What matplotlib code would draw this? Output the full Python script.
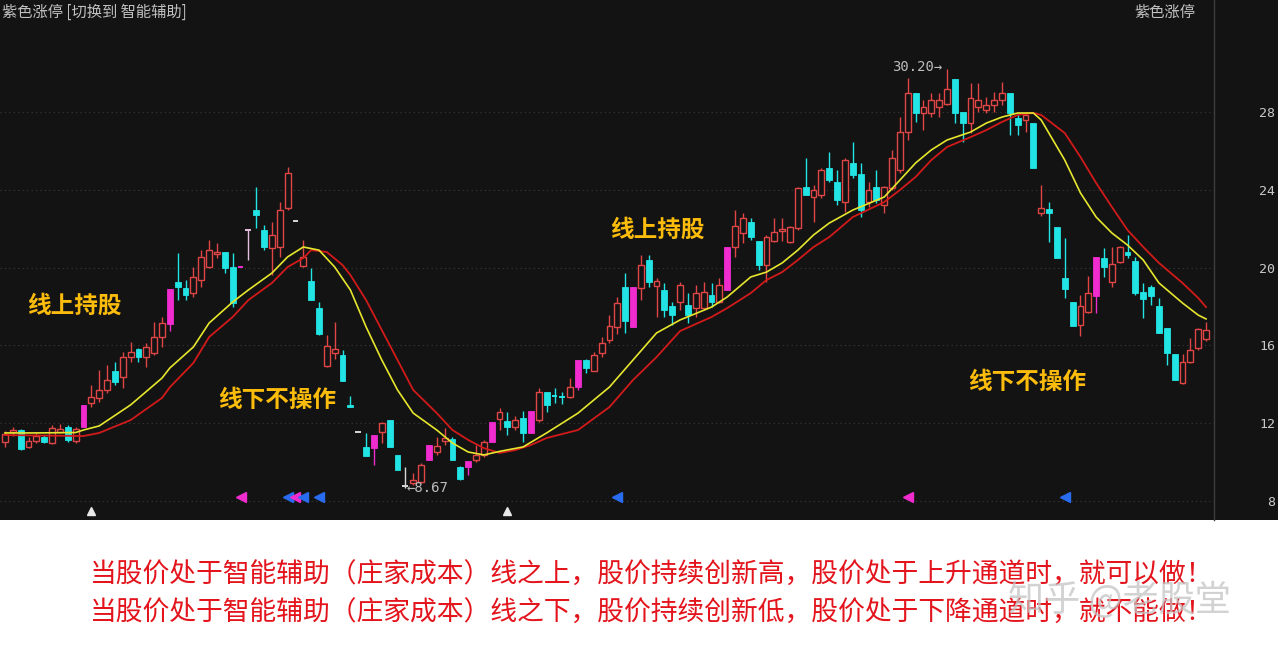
import matplotlib
matplotlib.use("Agg")
import matplotlib.pyplot as plt
from matplotlib.patches import Rectangle

plt.rcParams['font.family'] = ['Noto Sans CJK SC', 'DejaVu Sans']

# ---------------------------------------------------------------
# candle data, index 0..153
# ---------------------------------------------------------------
opens = [
    11.05, 11.55, 11.65, 10.79, 11.07, 11.27, 11.00, 11.56, 11.79, 11.10,
    11.82, 13.02, 13.28, 13.71, 14.70, 14.39, 15.42, 15.80, 15.42, 15.59,
    16.45, 17.10, 19.26, 18.95, 18.69, 19.36, 20.03, 20.70, 20.80, 20.03,
    20.01, 21.93, 22.96, 21.93, 20.99, 21.07, 23.05, 22.40, 20.08, 19.31,
    17.92, 14.94, 15.61, 15.51, 12.94, 11.55, 10.79, 10.72, 11.55, 12.16,
    10.36, 8.77, 8.91, 8.98, 10.11, 10.53, 11.08, 11.19, 9.75, 9.75,
    10.11, 10.36, 11.05, 12.22, 12.11, 11.80, 12.27, 11.50, 12.16, 13.60,
    13.42, 13.37, 13.36, 13.88, 15.25, 14.70, 15.59, 16.28, 16.96, 19.00,
    16.96, 18.95, 20.39, 19.05, 18.85, 18.02, 18.25, 18.08, 17.92, 17.92,
    18.59, 18.25, 18.85, 21.07, 21.78, 22.36, 21.38, 20.13, 21.38, 21.88,
    21.33, 22.02, 24.14, 23.64, 23.73, 25.12, 24.42, 23.39, 25.38, 24.81,
    23.39, 24.16, 23.22, 24.09, 25.02, 26.99, 28.98, 27.95, 27.95, 28.27,
    28.41, 29.70, 28.01, 27.43, 28.27, 28.10, 28.36, 28.62, 28.98, 27.69,
    27.59, 27.43, 22.81, 23.01, 22.09, 19.46, 18.25, 17.05, 17.73, 18.54,
    20.49, 19.27, 20.30, 20.82, 20.35, 18.76, 19.02, 18.02, 16.89, 15.56,
    14.05, 15.16, 15.87, 16.33,
]
highs = [
    11.61, 11.80, 11.69, 11.31, 11.48, 11.39, 11.91, 11.96, 11.91, 11.82,
    12.94, 13.96, 14.73, 14.99, 15.16, 15.68, 16.19, 15.87, 16.12, 17.22,
    17.47, 18.88, 20.75, 19.36, 20.03, 20.90, 21.42, 21.26, 20.80, 20.75,
    20.01, 21.93, 24.14, 22.19, 22.36, 23.39, 25.19, 22.40, 21.42, 19.98,
    18.23, 16.53, 17.20, 15.76, 13.40, 11.55, 11.51, 11.39, 12.08, 12.16,
    10.36, 9.75, 9.44, 9.95, 10.88, 11.31, 11.75, 11.29, 9.80, 10.07,
    10.88, 11.14, 12.08, 12.78, 12.58, 12.37, 12.63, 12.64, 13.81, 13.60,
    13.81, 13.60, 14.32, 15.25, 15.30, 15.68, 16.45, 17.56, 18.50, 19.74,
    19.00, 20.65, 20.65, 19.46, 19.21, 18.25, 19.27, 18.69, 19.10, 19.27,
    19.22, 19.46, 21.07, 22.96, 22.82, 22.55, 21.38, 21.68, 22.55, 22.55,
    22.14, 24.16, 25.63, 24.25, 25.12, 25.96, 25.02, 25.63, 26.47, 25.38,
    24.42, 25.02, 24.19, 26.05, 27.76, 29.75, 28.98, 28.62, 28.98, 28.98,
    30.20, 29.70, 28.01, 29.49, 29.49, 28.79, 29.04, 29.56, 28.98, 27.95,
    28.01, 27.43, 24.25, 23.39, 22.09, 21.52, 18.25, 18.59, 19.57, 20.56,
    21.01, 21.07, 21.11, 21.68, 20.56, 19.21, 19.10, 18.44, 16.89, 15.56,
    15.56, 16.38, 16.89, 17.22,
]
lows = [
    10.79, 11.34, 10.62, 10.72, 11.00, 10.97, 10.93, 11.48, 11.05, 11.00,
    11.82, 12.85, 13.10, 13.55, 13.96, 13.81, 15.16, 15.16, 14.90, 15.51,
    15.93, 16.76, 18.33, 18.33, 18.49, 19.00, 19.98, 20.49, 19.72, 17.98,
    20.01, 20.39, 22.04, 20.90, 19.62, 20.56, 22.96, 22.40, 20.04, 18.33,
    16.53, 14.89, 15.30, 14.17, 12.83, 11.55, 10.31, 9.85, 10.98, 10.79,
    9.59, 8.67, 8.82, 8.95, 10.11, 10.36, 10.88, 10.11, 9.08, 9.34,
    10.01, 10.28, 11.05, 11.65, 11.39, 11.65, 11.05, 11.50, 12.08, 12.58,
    13.04, 12.99, 13.30, 13.71, 14.58, 14.68, 15.42, 16.12, 16.59, 16.64,
    16.96, 18.33, 19.00, 17.46, 17.46, 17.05, 17.82, 17.15, 17.46, 17.82,
    17.99, 18.18, 18.85, 20.56, 21.25, 21.42, 19.88, 19.27, 21.33, 21.38,
    21.26, 21.93, 23.73, 22.36, 23.58, 24.42, 23.22, 22.87, 24.61, 22.62,
    23.13, 23.32, 22.81, 23.99, 24.86, 26.56, 27.50, 27.07, 27.76, 27.76,
    28.36, 27.43, 26.47, 26.92, 28.01, 27.95, 28.01, 28.36, 26.82, 26.82,
    26.99, 25.14, 22.65, 21.33, 20.49, 18.44, 17.00, 16.48, 17.67, 17.67,
    19.53, 19.02, 20.24, 20.49, 18.59, 17.41, 18.08, 16.63, 14.99, 14.22,
    14.02, 15.09, 15.76, 16.24,
]
closes = [
    11.43, 11.65, 10.66, 11.10, 11.34, 11.05, 11.74, 11.69, 11.14, 11.69,
    12.94, 13.36, 13.71, 14.22, 14.13, 15.42, 15.68, 15.42, 15.93, 16.45,
    17.14, 18.88, 19.00, 18.59, 19.52, 20.54, 20.90, 20.80, 19.98, 18.18,
    20.01, 21.93, 22.70, 21.07, 21.68, 22.96, 24.85, 22.40, 20.53, 18.33,
    16.59, 15.97, 15.81, 14.17, 12.83, 11.55, 10.31, 11.39, 12.01, 10.79,
    9.59, 8.77, 9.08, 9.85, 10.88, 10.83, 11.24, 10.11, 9.13, 10.07,
    10.36, 11.05, 12.08, 12.58, 11.80, 12.16, 11.50, 12.64, 13.60, 12.94,
    13.37, 13.32, 13.88, 15.25, 14.84, 15.51, 16.14, 17.00, 18.18, 17.27,
    19.00, 20.13, 19.27, 19.31, 17.82, 17.56, 19.10, 17.56, 18.69, 18.76,
    18.25, 19.10, 21.07, 22.14, 22.55, 21.59, 20.13, 21.57, 21.84, 21.98,
    22.10, 24.08, 23.73, 23.99, 25.02, 24.50, 23.48, 25.53, 24.76, 22.96,
    23.99, 23.48, 24.14, 25.63, 26.99, 28.98, 27.95, 28.27, 28.62, 28.62,
    29.18, 27.95, 27.43, 28.72, 28.62, 28.36, 28.62, 28.98, 27.95, 27.33,
    27.84, 25.14, 23.06, 22.82, 20.49, 18.90, 17.00, 18.02, 18.69, 20.56,
    20.05, 20.18, 21.06, 20.65, 18.68, 18.37, 18.54, 16.65, 15.61, 14.22,
    15.16, 15.76, 16.84, 16.79,
]

# purple (limit-up) candles and odd-coloured one-price bars
limit_up_idx = [10, 21, 30, 47, 54, 59, 62, 67, 73, 80, 92, 139]
white_idx = [37, 45, 51]
pale_idx = [31]

# smoothed cost lines (yellow fast, red slow)
yellow_idx = [0, 4, 9, 10, 12, 16, 20, 21, 24, 26, 29, 31, 34, 36, 38, 40,
              42, 44, 46, 48, 50, 52, 55, 57, 59, 61, 63, 66, 69, 73, 77, 80,
              83, 86, 90, 92, 95, 97, 99, 101, 103, 105, 108, 112, 114, 116,
              118, 120, 123, 125, 127, 129, 131, 132, 135, 137, 139, 141, 143,
              145, 147, 150, 152, 153]
yellow_val = [11.50, 11.50, 11.52, 11.65, 11.86, 12.94, 14.32, 14.84, 15.92,
              17.15, 18.23, 18.85, 19.72, 20.55, 21.06, 20.90, 20.03, 18.85,
              16.95, 15.25, 13.71, 12.52, 11.65, 10.98, 10.52, 10.37, 10.55,
              10.78, 11.50, 12.52, 13.86, 15.25, 16.64, 17.31, 17.97, 18.49,
              19.52, 19.77, 20.24, 20.90, 21.68, 22.29, 22.96, 23.63, 24.50,
              25.38, 26.05, 26.56, 26.97, 27.43, 27.74, 27.95, 27.95, 27.59,
              25.53, 23.84, 22.60, 21.78, 21.16, 20.39, 19.21, 18.18, 17.56,
              17.36]
red_idx = [0, 10, 12, 16, 20, 21, 24, 26, 29, 31, 34, 36, 38, 39, 41, 43, 44,
           46, 48, 50, 52, 55, 57, 59, 61, 63, 65, 67, 69, 73, 77, 80, 83, 86,
           90, 92, 95, 97, 99, 101, 103, 105, 108, 112, 114, 116, 118, 120,
           123, 125, 127, 129, 131, 132, 135, 137, 139, 141, 143, 145, 147,
           150, 152, 153]
red_val = [11.39, 11.34, 11.50, 12.16, 13.30, 13.85, 15.10, 16.43, 17.46,
           18.33, 19.21, 20.03, 20.49, 20.90, 20.80, 20.13, 19.62, 18.33,
           16.79, 15.25, 13.71, 12.52, 11.65, 11.14, 10.72, 10.47, 10.62,
           10.88, 11.24, 11.65, 12.83, 14.22, 15.40, 16.74, 17.46, 17.92,
           18.69, 19.36, 19.77, 20.39, 21.06, 21.57, 22.60, 23.37, 23.99,
           24.66, 25.53, 26.20, 26.71, 27.07, 27.49, 27.85, 27.95, 27.85,
           26.92, 25.69, 24.35, 23.12, 21.93, 21.06, 20.24, 19.21, 18.44,
           17.97]

# signal flags along the bottom
flag_idx = [30, 36, 37, 38, 40, 78, 115, 135]
flag_kind = ["m", "b", "m", "b", "b", "b", "m", "b"]
tri_idx = [11, 64]

price_ticks = [8, 12, 16, 20, 24, 28]

BG = "#131313"
RED = "#e04646"
CYAN = "#22e4e4"
MAGENTA = "#f02ccf"
WIDTH = 0.74

W, H = 1278, 651


def fx(x):
    return x / W


def fy(y):
    return 1 - y / H


def draw_candle(ax, i, o, h, l, c):
    top, bot = max(o, c), min(o, c)
    if i in limit_up_idx:
        col, filled = MAGENTA, True
    elif i in white_idx:
        col, filled = "#d8d8d8", True
    elif i in pale_idx:
        col, filled = "#e6bfe0", True
    elif c >= o:
        col, filled = RED, False
    else:
        col, filled = CYAN, True

    if top - bot < 0.07:
        ax.vlines(i, l, h, color=col, linewidth=1.0, zorder=3)
        ax.hlines((o + c) / 2, i - WIDTH / 2, i + WIDTH / 2,
                  color=col, linewidth=1.4, zorder=3)
        return

    if filled:
        ax.vlines(i, l, h, color=col, linewidth=1.0, zorder=3)
        ax.add_patch(Rectangle((i - WIDTH / 2, bot), WIDTH, top - bot,
                               facecolor=col, edgecolor=col,
                               linewidth=0.6, zorder=3))
    else:
        if h > top:
            ax.vlines(i, top, h, color=col, linewidth=1.0, zorder=3)
        if l < bot:
            ax.vlines(i, l, bot, color=col, linewidth=1.0, zorder=3)
        ax.add_patch(Rectangle((i - WIDTH / 2, bot), WIDTH, top - bot,
                               facecolor=BG, edgecolor=col,
                               linewidth=1.0, zorder=3))


fig = plt.figure(figsize=(12.78, 6.51), dpi=100, facecolor="white")

# dark backdrop for the whole chart band (incl. price scale)
bg = fig.add_axes([0, fy(520), 1, 520 / H])
bg.set_facecolor(BG)
bg.set_xticks([])
bg.set_yticks([])
for s in bg.spines.values():
    s.set_visible(False)

ax = fig.add_axes([0, fy(520), 1214 / W, 520 / H])
ax.set_facecolor(BG)
ax.set_xlim(-5 / 7.85, (1214 - 5) / 7.85)
ax.set_ylim(7.023, 33.76)
for name, s in ax.spines.items():
    s.set_visible(name == "right")
ax.spines["right"].set_color("#3e3e3e")
ax.spines["right"].set_linewidth(1.0)

for t in price_ticks:
    ax.axhline(t, color="#3a3a3a", linewidth=0.8, linestyle=(0, (1, 3)), zorder=1)

ax.set_xticks([])
ax.yaxis.tick_right()
ax.set_yticks(price_ticks)
ax.set_yticklabels([str(t) for t in price_ticks], family="DejaVu Sans Mono",
                   fontsize=9.5, color="#c8c8c8")
ax.tick_params(axis="y", length=0, pad=44)
for lab in ax.get_yticklabels():
    lab.set_horizontalalignment("right")

for i in range(len(opens)):
    draw_candle(ax, i, opens[i], highs[i], lows[i], closes[i])

ax.plot(red_idx, red_val, color="#d21a1a", linewidth=1.3, zorder=5)
ax.plot(yellow_idx, yellow_val, color="#e6e62e", linewidth=1.2, zorder=6)

# bottom signal flags
for i, k in zip(flag_idx, flag_kind):
    ax.plot(i, 8.21, marker="<", markersize=7,
            color="#2a6cf0" if k == "b" else MAGENTA, zorder=4)
for i in tri_idx:
    ax.plot(i, 7.49, marker="^", markersize=6, color="#e8e8e8", zorder=4)

# extremes labels
ax.text(120 - 0.6, 30.31, "30.20\u2192", ha="right", va="center",
        family="DejaVu Sans Mono", fontsize=10, color="#bdbdbd", zorder=7)
ax.text(51 + 0.2, 8.67, "\u21908.67", ha="left", va="center",
        family="DejaVu Sans Mono", fontsize=10, color="#bdbdbd", zorder=7)

# header texts
fig.text(fx(2), fy(12), "紫色涨停 [切换到 智能辅助]", ha="left", va="center",
         fontsize=11, color="#c0c0c0")
fig.text(fx(1134), fy(12), "紫色涨停", ha="left", va="center",
         fontsize=11, color="#c0c0c0")

# annotations on the chart
ann_color = "#fcbc0c"
for (x, y, s) in [(27, 306, "线上持股"), (218, 400, "线下不操作"),
                  (610, 230, "线上持股"), (968, 382, "线下不操作")]:
    fig.text(fx(x), fy(y), s, ha="left", va="center", fontsize=17,
             fontweight="bold", color=ann_color)

# explanatory text below
line1 = "当股价处于智能辅助（庄家成本）线之上，股价持续创新高，股价处于上升通道时，就可以做！"
line2 = "当股价处于智能辅助（庄家成本）线之下，股价持续创新低，股价处于下降通道时，就不能做！"
fig.text(fx(90), fy(575), line1, ha="left", va="center", fontsize=19.3, color="#e3141c")
fig.text(fx(90), fy(613), line2, ha="left", va="center", fontsize=19.3, color="#e3141c")

# watermark sits over the end of both lines, as in the screenshot
fig.text(fx(1008), fy(600), "知乎 @老股堂", ha="left", va="center", fontsize=26,
         color="#c4c4c4", alpha=0.75)

fig.savefig("out.png", dpi=100, facecolor="white")
